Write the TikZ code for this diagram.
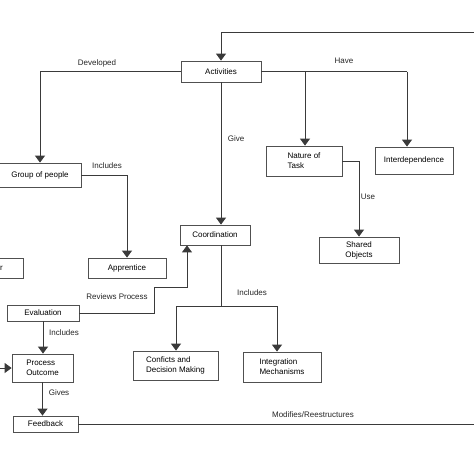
\documentclass[tikz,border=0pt]{standalone}
\usepackage{fontspec}
\setmainfont{Liberation Sans}
\usetikzlibrary{arrows.meta}
\definecolor{ln}{HTML}{3A3A3A}
\definecolor{bx}{HTML}{505050}
\tikzset{
  box/.style={draw=bx, line width=0.8pt, fill=white, inner sep=1pt, font=\fontsize{8}{10}\selectfont, align=center},
  conn/.style={draw=ln, line width=0.9pt},
  arr/.style={conn, -{Triangle[width=10pt,length=7pt]}},
  lbl/.style={font=\fontsize{8}{10}\selectfont, text=black!85, inner sep=0pt}
}
\begin{document}
\begin{tikzpicture}[x=1pt,y=-1pt]
\useasboundingbox (0,0) rectangle (474,474);
\clip (0,0) rectangle (474,474);
\fill[white] (0,0) rectangle (474,474);
% nodes
\node[box, minimum width=80pt, minimum height=21pt] (act) at (221,71.5) {Activities};
\node[box, minimum width=82pt, minimum height=24pt] (group) at (40,175) {Group of people};
\node[box, minimum width=65pt, minimum height=20pt] (master) at (-9.5,268) {Master};
\node[box, minimum width=78pt, minimum height=20pt] (appr) at (127,268) {Apprentice};
\node[box, minimum width=70pt, minimum height=20pt] (coord) at (215,235) {Coordination};
\node[box, minimum width=76pt, minimum height=30pt, align=left] (nature) at (304,161) {Nature of\\Task};
\node[box, minimum width=78pt, minimum height=27pt] (inter) at (414,160.5) {Interdependence};
\node[box, minimum width=80pt, minimum height=26pt] (shared) at (359,250) {Shared\\Objects};
\node[box, minimum width=85pt, minimum height=29pt, align=left] (confl) at (175.5,365.5) {Conficts and\\Decision Making};
\node[box, minimum width=78pt, minimum height=30pt, align=left] (integ) at (282,367) {Integration\\Mechanisms};
\node[box, minimum width=72pt, minimum height=16pt] (eval) at (43,313) {Evaluation};
\node[box, minimum width=61pt, minimum height=28pt, align=left] (proc) at (42.5,368) {Process\\Outcome};
\node[box, minimum width=65pt, minimum height=16pt] (feed) at (45.5,424) {Feedback};
% coordinates
\coordinate (topR) at (474,32);
\coordinate (h1) at (305,71.5);
\coordinate (h2) at (407,71.5);
\coordinate (c0) at (221,306);
\coordinate (c1) at (176,306);
\coordinate (c2) at (277,306);
\coordinate (r1) at (154,287);
\coordinate (r2) at (187,287);
\coordinate (lin) at (0,368);
\coordinate (fR) at (474,424);
% connectors
\draw[arr] (topR) -| (act.north);
\draw[arr] (act.west) -| (group.north);
\draw[arr] (group.east) -| (appr.north);
\draw[arr] (act.south) -- (act.south |- coord.north);
\draw[conn] (act.east) -- (h2);
\draw[arr] (h2) -- (h2 |- inter.north);
\draw[arr] (h1) -- (h1 |- nature.north);
\draw[arr] (nature.east) -| (shared.north);
\draw[conn] (act.south |- coord.south) -- (c0);
\draw[conn] (c1) -- (c2);
\draw[arr] (c1) -- (c1 |- confl.north);
\draw[arr] (c2) -- (c2 |- integ.north);
\draw[arr] (eval.east) -| (r1) -- (r2) -- (r2 |- coord.south);
\draw[arr] (eval.south) -- (eval.south |- proc.north);
\draw[arr] (lin) -- (proc.west);
\draw[arr] (proc.south) -- (proc.south |- feed.north);
\draw[conn] (feed.east) -- (fR);
% labels
\node[lbl] (lDev) at (97,63) {Developed};
\node[lbl] (lInc1) at (107,166) {Includes};
\node[lbl] (lGive) at (236,139) {Give};
\node[lbl] (lHave) at (344,61) {Have};
\node[lbl] (lUse) at (368,197) {Use};
\node[lbl] (lInc2) at (252,293) {Includes};
\node[lbl] (lRev) at (117,297) {Reviews Process};
\node[lbl] (lInc3) at (64,333) {Includes};
\node[lbl] (lGives) at (59,393) {Gives};
\node[lbl] (lMod) at (313,415) {Modifies/Reestructures};
\end{tikzpicture}
\end{document}
